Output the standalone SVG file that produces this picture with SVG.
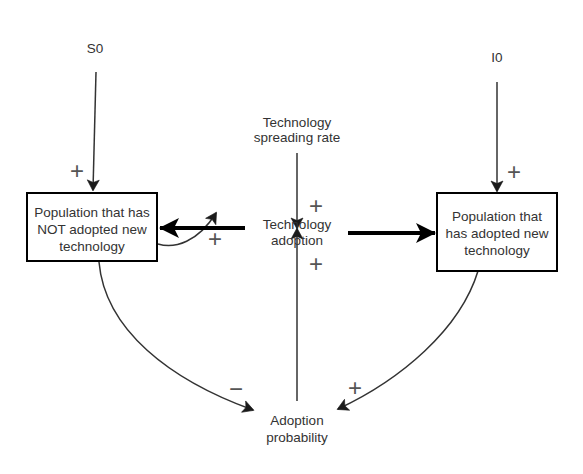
<svg xmlns="http://www.w3.org/2000/svg" width="583" height="474" viewBox="0 0 583 474">
<style>
text{font-family:"Liberation Sans",Arial,sans-serif;font-size:13.5px;fill:#333333;text-anchor:middle}
.sign{font-size:24px;fill:#555555}
.box{fill:#ffffff;stroke:#000000;stroke-width:2}
.thin{fill:none;stroke:#333333;stroke-width:1.5}
.thick{fill:none;stroke:#000000;stroke-width:4}
</style>
<defs>
<marker id="a" markerUnits="userSpaceOnUse" markerWidth="16" markerHeight="16" refX="10" refY="6" orient="auto" viewBox="0 0 16 16" overflow="visible">
<path d="M0,0 L11,6 L0,12 L2.5,6 Z" fill="#1a1a1a" stroke="#1a1a1a" stroke-width="0.6" stroke-linejoin="miter"/>
</marker>
<marker id="b" markerUnits="userSpaceOnUse" markerWidth="24" markerHeight="24" refX="19" refY="10" orient="auto" viewBox="0 0 24 24" overflow="visible">
<path d="M0,0 L20,10 L0,20 L5,10 Z" fill="#000000"/>
</marker>
</defs>
<rect width="583" height="474" fill="#ffffff"/>
<g id="connectors">
<path class="thin" d="M96,72 L93,190" marker-end="url(#a)"/>
<path class="thin" d="M497,82 L497,191" marker-end="url(#a)"/>
<path class="thin" d="M158,244 C175,249 198,242 216,213" marker-end="url(#a)"/>
<path class="thick" d="M245,228 L160,228" marker-end="url(#b)"/>
<path class="thick" d="M348,233 L435,233" marker-end="url(#b)"/>
<path class="thin" d="M297,153 L297,228" marker-end="url(#a)"/>
<path class="thin" d="M297,401 L297,229" marker-end="url(#a)"/>
<path class="thin" d="M99,262 C105,330 170,380 253,410" marker-end="url(#a)"/>
<path class="thin" d="M478,271 C460,330 400,380 338,409" marker-end="url(#a)"/>
<text class="sign" x="77" y="179">+</text>
<text class="sign" x="514" y="180">+</text>
<text class="sign" x="215" y="247">+</text>
<text class="sign" x="316" y="214">+</text>
<text class="sign" x="316" y="272">+</text>
<text class="sign" x="355" y="396">+</text>
<text class="sign" x="236" y="397">−</text>
</g>
<g id="S0"><text x="95" y="53">S0</text></g>
<g id="I0"><text x="497" y="62">I0</text></g>
<g id="not-adopted">
<rect class="box" x="27" y="193" width="130" height="68"/>
<text x="92" y="217">Population that has</text>
<text x="92" y="234">NOT adopted new</text>
<text x="92" y="251">technology</text>
</g>
<g id="adopted">
<rect class="box" x="437" y="193" width="120" height="78"/>
<text x="497" y="221">Population that</text>
<text x="497" y="238">has adopted new</text>
<text x="497" y="255">technology</text>
</g>
<g id="spreading-rate">
<text x="297" y="127">Technology</text>
<text x="297" y="142">spreading rate</text>
</g>
<g id="adoption">
<text x="297" y="229">Technology</text>
<text x="297" y="245">adoption</text>
</g>
<g id="probability">
<text x="297" y="425">Adoption</text>
<text x="297" y="442">probability</text>
</g>
</svg>
